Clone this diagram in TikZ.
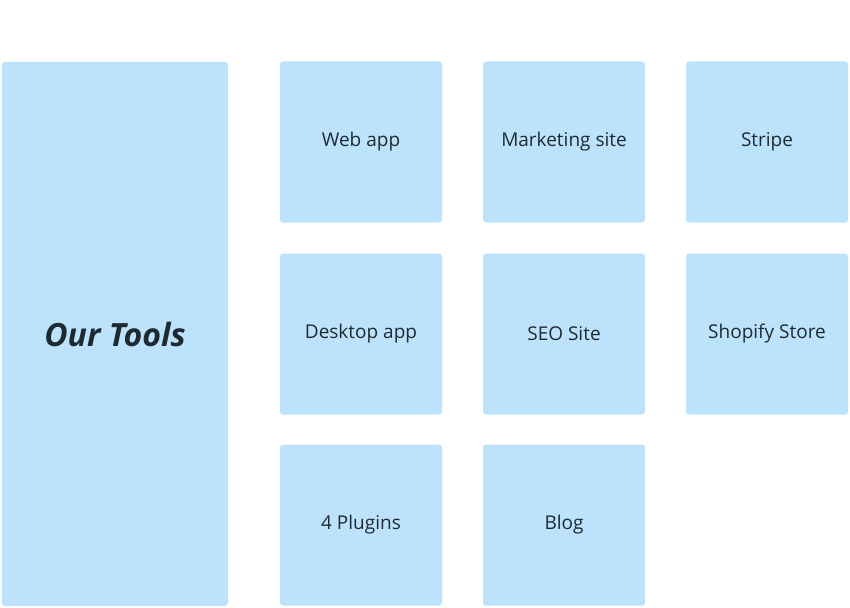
\documentclass[tikz,border=0pt]{standalone}
\usepackage{fontspec}
\setmainfont{Open Sans}
\definecolor{tilefill}{HTML}{BDE3FC}
\definecolor{tiletext}{HTML}{1E2A32}
\tikzset{
  tile/.style={rectangle, fill=tilefill, rounded corners=3pt, minimum width=162pt, minimum height=161pt, inner sep=0pt, text=tiletext, font=\fontsize{19}{22}\selectfont},
}
\begin{document}
\begin{tikzpicture}[x=1pt,y=-1pt]
        \useasboundingbox (0,0) rectangle (850,607);

        \node[tile, minimum width=226pt, minimum height=544pt, font=\fontsize{32}{36}\selectfont\bfseries\itshape] (tools) at (115, 334) {Our Tools};

        \node[tile] (web) at (361, 142) {Web app};
        \node[tile] (marketing) at (564, 142) {Marketing site};
        \node[tile] (stripe) at (767, 142) {Stripe};
        \node[tile] (desktop) at (361, 334) {Desktop app};
        \node[tile] (seo) at (564, 334) {SEO Site};
        \node[tile] (shopify) at (767, 334) {Shopify Store};
        \node[tile] (plugins) at (361, 525) {4 Plugins};
        \node[tile] (blog) at (564, 525) {Blog};
    \end{tikzpicture}
\end{document}
